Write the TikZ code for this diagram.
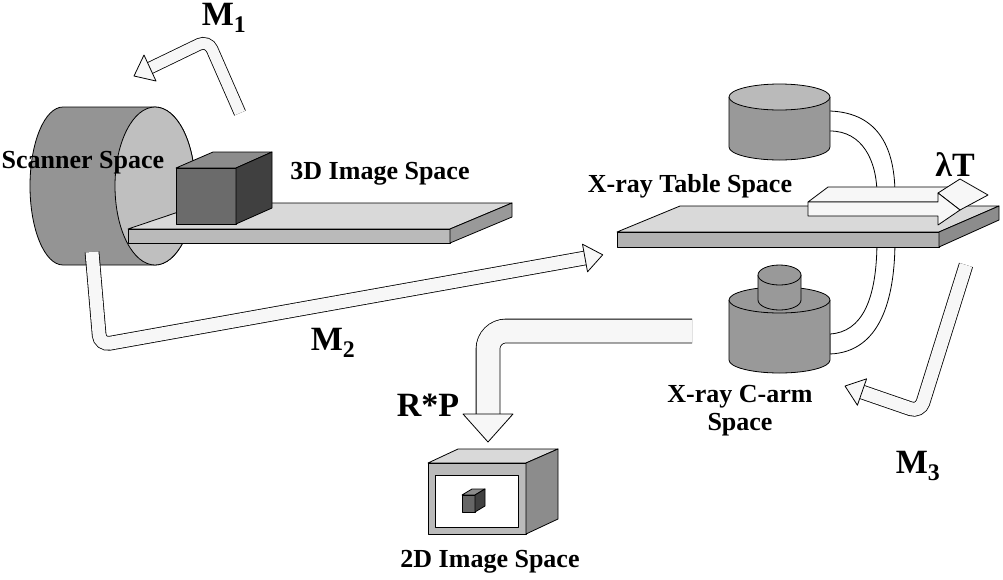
\documentclass[tikz,border=0pt]{standalone}
\usepackage{fontspec}
\setmainfont{Liberation Serif}
\usepackage{tikz}
\usetikzlibrary{calc}
\tikzset{
  solid/.style     = {draw=black, line width=0.8pt, line join=round},
  label/.style     = {font=\bfseries\fontsize{26}{28}\selectfont, inner sep=0pt},
  biglabel/.style  = {font=\bfseries\fontsize{34}{36}\selectfont, inner sep=0pt},
  fatarrow/.style  = {draw=black, line width=0.8pt, double=black!3, double distance=13pt, rounded corners=10pt},
  head/.style      = {solid, fill=black!3}
}
\begin{document}
\begin{tikzpicture}[x=1pt, y=-1pt]
  \useasboundingbox (0,0) rectangle (1003,579);

  % Scanner
  \draw [solid, fill=black!42] (63,107) -- (155,107) arc [start angle=90, end angle=-90, x radius=40pt, y radius=79pt] -- (63,265) arc [start angle=270, end angle=90, x radius=33pt, y radius=79pt] -- cycle;
  \draw [solid, fill=black!25] (155,186) ellipse [x radius=40pt, y radius=79pt];

  % Left table
  \draw [solid, fill=black!15] (128,229) -- (450,229) -- (512,203) -- (205,203) -- cycle;
  \draw [solid, fill=black!27] (128,229) rectangle (450,243);
  \draw [solid, fill=black!40] (450,229) -- (512,203) -- (512,217) -- (450,243) -- cycle;

  % 3D image cube
  \draw [solid, fill=black!45] (176,168) -- (213,152) -- (272,152) -- (236,168) -- cycle;
  \draw [solid, fill=black!58] (176,168) rectangle (236,224);
  \draw [solid, fill=black!75] (236,168) -- (272,152) -- (272,208) -- (236,224) -- cycle;

  % C-arm band
  \draw [solid, fill=white] (830,111) .. controls (880,113) and (895,150) .. (895,195) -- (877,195) .. controls (877,160) and (862,131) .. (830,131);
  \draw [solid, fill=white] (895,240) .. controls (895,300) and (880,352) .. (830,354) -- (830,334) .. controls (862,332) and (877,300) .. (877,240) -- cycle;

  % Upper cylinder
  \draw [solid, fill=black!40] (729,97) -- (729,147) arc [start angle=180, end angle=360, x radius=50.5pt, y radius=13pt] -- (830,97);
  \draw [solid, fill=black!27] (779.5,97) ellipse [x radius=50.5pt, y radius=13pt];

  % Lower cylinder
  \draw [solid, fill=black!40] (729,300) -- (729,360) arc [start angle=180, end angle=360, x radius=50.5pt, y radius=13pt] -- (830,300);
  \draw [solid, fill=black!40] (779.5,300) ellipse [x radius=50.5pt, y radius=13pt];
  \draw [solid, fill=black!40] (758,275) -- (758,300) arc [start angle=180, end angle=360, x radius=21.5pt, y radius=10pt] -- (801,275);
  \draw [solid, fill=black!40] (779.5,275) ellipse [x radius=21.5pt, y radius=10pt];

  % Right table
  \draw [solid, fill=black!15] (617,232) -- (939,232) -- (999,206) -- (680,206) -- cycle;
  \draw [solid, fill=black!30] (617,232) rectangle (939,247);
  \draw [solid, fill=black!45] (939,232) -- (999,206) -- (999,220) -- (939,247) -- cycle;

  % lambda T arrow
  \draw [head] (808,202) -- (828,187) -- (950,187) -- (938,202) -- cycle;
  \draw [head] (938,193) -- (960,179) -- (988,195) -- (960,210) -- cycle;
  \draw [head] (808,202) -- (938,202) -- (938,193) -- (960,210) -- (938,225) -- (938,216) -- (808,216) -- cycle;

  % M1 arrow
  \coordinate (m1s) at (240,113);
  \coordinate (m1b) at (208,40);
  \coordinate (m1e) at (150,68);
  \draw [fatarrow, double distance=11pt] (m1s) -- (m1b) -- (m1e);
  \draw [head] (156,81) -- (134,76) -- (144,55) -- cycle;

  % M2 arrow
  \coordinate (m2s) at (92,252);
  \coordinate (m2b) at (100,345);
  \coordinate (m2e) at (585,258);
  \draw [fatarrow] (m2s) -- (m2b) -- (m2e);
  \draw [head] (587.5,271.8) -- (602.7,254.8) -- (582.5,244.2) -- cycle;

  % M3 arrow
  \coordinate (m3s) at (966,265);
  \coordinate (m3b) at (920,412);
  \coordinate (m3e) at (862,392);
  \draw [fatarrow] (m3s) -- (m3b) -- (m3e);
  \draw [head] (866.6,378.8) -- (845,386) -- (857.4,405.2) -- cycle;

  % R*P arrow
  \coordinate (rps) at (692,331);
  \coordinate (rpb) at (488,331);
  \coordinate (rpe) at (488,414);
  \draw [fatarrow, double distance=23pt, rounded corners=18pt] (rps) -- (rpb) -- (rpe);
  \draw [head] (463,414) -- (488,442) -- (513,414) -- cycle;

  % 2D image box
  \draw [solid, fill=black!15] (428,463) -- (458,449) -- (558,449) -- (526,463) -- cycle;
  \draw [solid, fill=black!27] (428,463) rectangle (526,534);
  \draw [solid, fill=black!45] (526,463) -- (558,449) -- (558,519) -- (526,534) -- cycle;
  \draw [solid, fill=white] (435,475) rectangle (518,527);
  \draw [solid, fill=black!45] (462,495) -- (472,489) -- (485,489) -- (475,495) -- cycle;
  \draw [solid, fill=black!60] (462,495) rectangle (475,512);
  \draw [solid, fill=black!75] (475,495) -- (485,489) -- (485,506) -- (475,512) -- cycle;

  % Labels
  \node [biglabel] (lm1)   at (224,18)  {M\textsubscript{1}};
  \node [biglabel] (lm2)   at (333,343) {M\textsubscript{2}};
  \node [biglabel] (lm3)   at (918,466) {M\textsubscript{3}};
  \node [biglabel] (llt)   at (955,165) {λT};
  \node [biglabel] (lrp)   at (428,405) {R*P};
  \node [label] (lscan)  at (83,163)  {Scanner Space};
  \node [label] (l3d)    at (380,174) {3D Image Space};
  \node [label] (ltable) at (690,186) {X-ray Table Space};
  \node [label, align=center] (lcarm) at (740,411) {X-ray C-arm\\Space};
  \node [label] (l2d)    at (490,562) {2D Image Space};
\end{tikzpicture}
\end{document}
